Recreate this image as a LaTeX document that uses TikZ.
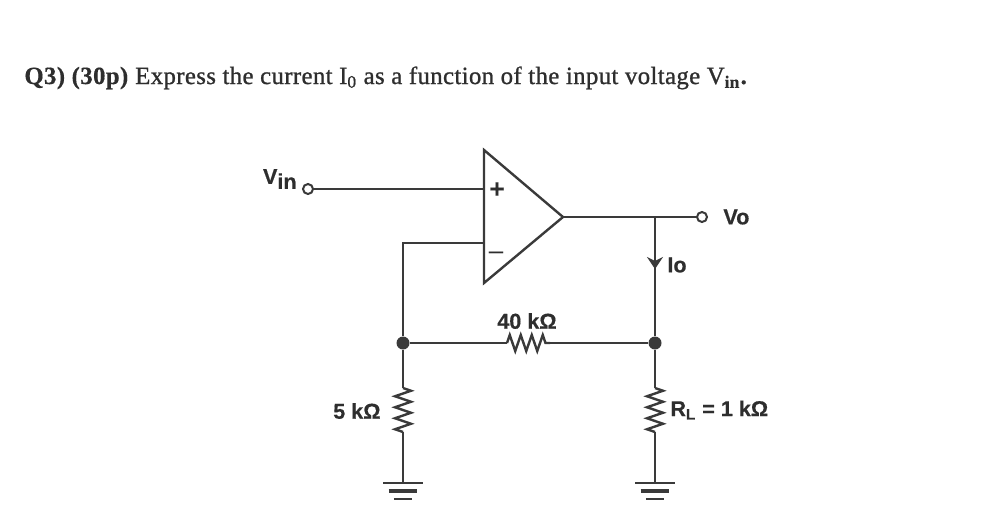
\documentclass[tikz,border=0pt]{standalone}
\usepackage{fontspec}
\setmainfont{Liberation Serif}
\setsansfont[BoldFeatures={FakeBold=0.4}]{Liberation Sans}
\newfontfamily\headfont[FakeBold=1, LetterSpace=1.5, BoldFeatures={FakeBold=0.5}]{Liberation Serif}
\usetikzlibrary{arrows.meta, decorations.pathmorphing}
\definecolor{ink}{HTML}{3A3A3A}
\tikzset{
    wire/.style={draw=ink, line width=1.2pt},
    resistor/.style={wire, decorate, decoration={zigzag, segment length=5.5pt, amplitude=4pt}},
    terminal/.style={circle, draw=ink, line width=1pt, fill=white, minimum size=5pt, inner sep=0pt},
    junction/.style={circle, fill=ink, minimum size=6.5pt, inner sep=0pt},
    partlabel/.style={font=\sffamily\bfseries\fontsize{10.8}{12}\selectfont, text=ink!80!black, inner sep=0pt},
    heading/.style={font=\headfont\fontsize{12.4}{14}\selectfont, text=ink!80!black, inner sep=0pt, anchor=base west}
}
\begin{document}
\begin{tikzpicture}[x=0.5pt, y=-0.5pt]
            \useasboundingbox (0, 0) rectangle (1006, 527);
            \node[heading] (title) at (24, 84) {\textbf{Q3) (30p)} Express the current I\textsubscript{0} as a function of the input voltage V\textsubscript{\textbf{in}}\textbf{.}};

            \coordinate (top) at (484, 150);
            \coordinate (bottom) at (484, 283);
            \coordinate (out) at (563, 217);
            \coordinate (plus) at (484, 189);
            \coordinate (minus) at (484, 243);
            \coordinate (corner) at (403, 243);
            \coordinate (tee) at (655, 217);

            \node[terminal] (vin) at (308, 189) {};
            \node[terminal] (vout) at (702, 217) {};
            \node[junction] (left) at (403, 343) {};
            \node[junction] (right) at (655, 343) {};

            \coordinate (r40a) at (507, 343);
            \coordinate (r40b) at (550, 343);
            \coordinate (r5a) at (403, 388);
            \coordinate (r5b) at (403, 432);
            \coordinate (rla) at (655, 388);
            \coordinate (rlb) at (655, 432);
            \coordinate (gnd5) at (403, 483);
            \coordinate (gndl) at (655, 483);

            \draw[wire, line join=miter] (top) -- (bottom) -- (out) -- cycle;
            \draw[wire] (vin) -- (plus);
            \draw[wire] (minus) -- (corner) -- (left);
            \draw[wire] (out) -- (tee) -- (vout);
            \draw[wire] (tee) -- (right);
            \draw[wire] (left) -- (r40a);
            \draw[resistor] (r40a) -- (r40b);
            \draw[wire] (r40b) -- (right);
            \draw[wire] (left) -- (r5a);
            \draw[resistor] (r5a) -- (r5b);
            \draw[wire] (r5b) -- (gnd5);
            \draw[wire] (right) -- (rla);
            \draw[resistor] (rla) -- (rlb);
            \draw[wire] (rlb) -- (gndl);

            \foreach \g in {gnd5, gndl} {
                \draw[wire] ([xshift=-10pt]\g) -- ([xshift=10pt]\g);
                \draw[wire, line width=1.6pt] ([xshift=-7.2pt, yshift=-4pt]\g) -- ([xshift=7.2pt, yshift=-4pt]\g);
                \draw[wire, line width=1.4pt] ([xshift=-4.6pt, yshift=-8pt]\g) -- ([xshift=4.6pt, yshift=-8pt]\g);
            };

            \coordinate (ioa) at (655, 254);
            \coordinate (iob) at (655, 269);
            \draw[-{Stealth[length=6pt, width=8pt]}, wire] (ioa) -- (iob);

            \node[partlabel, font=\sffamily\bfseries\fontsize{13}{14}\selectfont] (pluslabel) at (497, 190) {+};
            \node[partlabel, font=\sffamily\fontsize{13}{14}\selectfont] (minuslabel) at (496, 256) {--};
            \node[partlabel, anchor=east] (vinlabel) at (297, 179) {V\raisebox{-2.5pt}{in}};
            \node[partlabel, anchor=west] (vo) at (723, 217) {Vo};
            \node[partlabel, anchor=west] (io) at (667, 265) {Io};
            \node[partlabel] (r40label) at (527, 321) {40 kΩ};
            \node[partlabel, anchor=east] (r5label) at (381, 411) {5 kΩ};
            \node[partlabel, anchor=west] (rllabel) at (670, 410) {R\textsubscript{L} = 1 kΩ};
        \end{tikzpicture}
\end{document}
